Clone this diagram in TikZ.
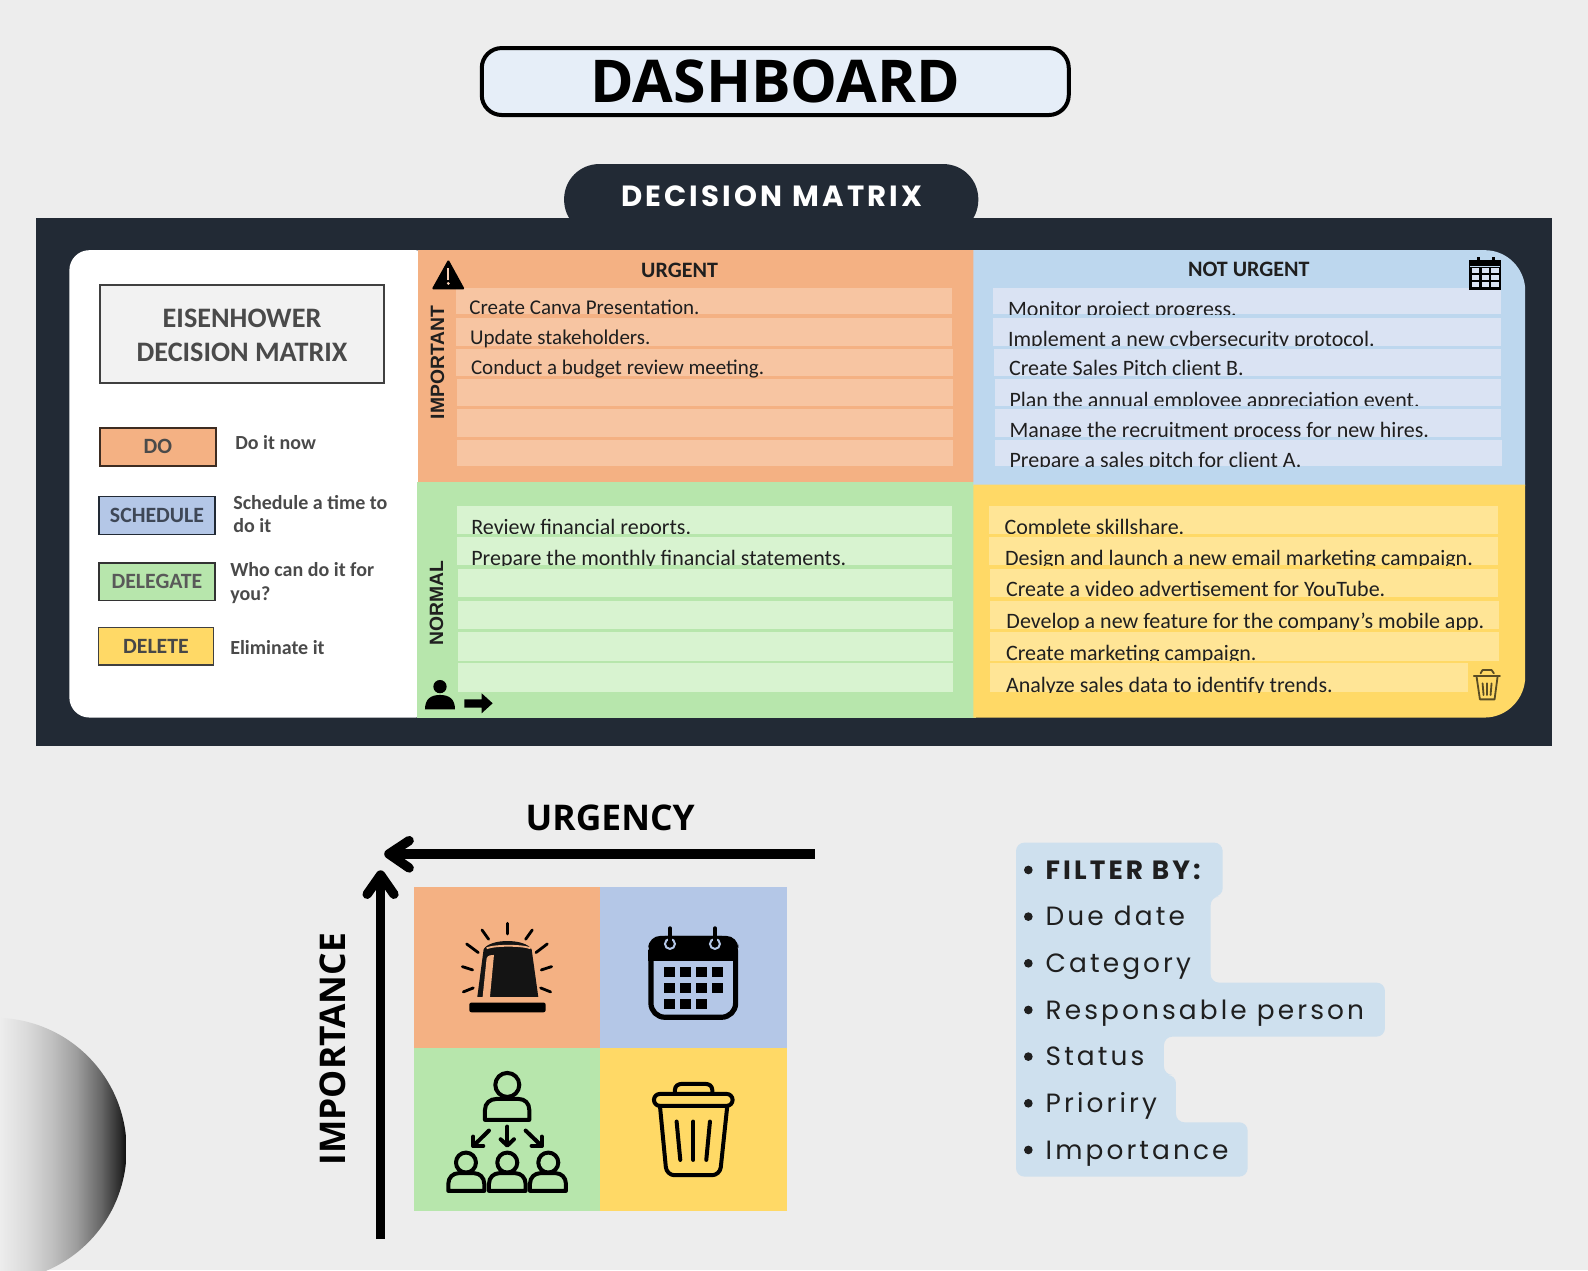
\documentclass[tikz,border=0pt]{standalone}
\usepackage{fontspec}
\setmainfont{Carlito}
\newfontfamily\popf[LetterSpace=11.7]{Poppins}
\newfontfamily\popt[LetterSpace=11]{Poppins}
\newfontfamily\osans{Open Sans}
\newfontfamily\lib{Liberation Sans}
\definecolor{bg}{HTML}{EDEDED}
\definecolor{navy}{HTML}{222A35}
\definecolor{qor}{HTML}{F4B183}
\definecolor{qorr}{HTML}{F7C5A2}
\definecolor{qbl}{HTML}{BDD7EE}
\definecolor{qblr}{HTML}{DAE3F3}
\definecolor{qgr}{HTML}{B7E6AC}
\definecolor{qgrr}{HTML}{D8F3D0}
\definecolor{qye}{HTML}{FFD966}
\definecolor{qyer}{HTML}{FFE596}
\definecolor{sbl}{HTML}{B4C7E7}
\definecolor{filt}{HTML}{CEE0EE}
\definecolor{ink}{HTML}{1F1F1F}
\definecolor{legtxt}{HTML}{4A4A4A}
\definecolor{dashfill}{HTML}{E6EEF8}
\pgfdeclarehorizontalshading{orb}{100bp}{color(0bp)=(bg); color(25bp)=(bg); color(35bp)=(black!14); color(45bp)=(black!24); color(55bp)=(black!38); color(65bp)=(black!60); color(72bp)=(black!82); color(75bp)=(black!95); color(100bp)=(black!95)}
\newcommand{\fs}[1]{\fontsize{#1}{#1}\selectfont}
\newcommand{\cliptxt}[8]{\begin{scope}\clip (#1,#2) rectangle (#3,#4);\node[rowtext,font=\fs{11}] (#5) at (#6,#7) {#8};\end{scope}}
\tikzset{
  rowtext/.style={anchor=base west,inner sep=0pt,text=ink,font=\fs{10.5}},
  legbox/.style={draw,line width=0.9pt,minimum width=58pt,minimum height=19pt,inner sep=0pt,font=\bfseries\fs{10.9}},
  legnote/.style={anchor=base west,inner sep=0pt,text=legtxt,font=\bfseries\fs{10}},
  head/.style={inner sep=0pt,text=ink,font=\bfseries\fs{11}},
  side/.style={inner sep=0pt,rotate=90,text=ink,font=\lib\bfseries\fs{9.65}},
  axis/.style={line width=4.7pt,black,line join=round,line cap=round},
  filtertxt/.style={anchor=base west,inner sep=0pt,text=ink,font=\popf\fs{13.2}},
  icon/.style={line width=2pt,black,line cap=round,line join=round}
}
\begin{document}
\begin{tikzpicture}[x=0.50638pt,y=-0.50638pt]
\useasboundingbox (0,0) rectangle (1568,1254);
\fill[bg] (0,0) rectangle (1568,1254);
% sphere
\begin{scope}
\clip (-5,1135) circle (130);
\shade[shading=orb] (0,1000) rectangle (125,1254);
\end{scope}
% title
\node[draw=black,line width=2pt,fill=dashfill,rounded corners=10pt,minimum width=293.5pt,minimum height=33.5pt,inner sep=0pt] (dashbox) at (765.5,80.5) {};
\node[inner sep=0pt,font=\osans\bfseries\fs{29.5},text=black] (dashtxt) at (765.5,80) {DASHBOARD};
% tab + panel
\fill[navy,rounded corners=17.5pt] (557,162) rectangle (966,232);
\fill[navy] (35.5,215.5) rectangle (1532,737);
\node[inner sep=0pt,text=white,font=\popt\bfseries\fs{14.6}] (tabtxt) at (762,194) {DECISION MATRIX};
% inner sheet
\fill[white,rounded corners=10pt] (68.5,247) rectangle (430,708.5);
\fill[qor] (413,247) rectangle (964,477);
\fill[qgr] (412,475.5) rectangle (964,708.5);
\fill[qbl] (961,247) -- (1466,247) .. controls (1488,247) and (1506,265) .. (1506,287) -- (1506,480) -- (961,480) -- cycle;
\fill[qye] (961,478.5) -- (1506,478.5) -- (1506,668) .. controls (1506,690) and (1488,708.5) .. (1466,708.5) -- (961,708.5) -- cycle;
% rows
\foreach \a/\b/\l/\r in {284/310.3/450/940,314/341.4/450/940,344.5/371/450.5/941,374.5/400.6/451/941,404/431/451/941,434.5/460.5/451/941}{\fill[qorr] (\l,\a) rectangle (\r,\b);}
\foreach \a/\b/\l/\r in {284/310.3/980/1482,314/341.4/980/1482,344.5/371/981/1482,374.5/400.6/982/1482,404/431/982/1482,434.5/460.5/982/1483}{\fill[qblr] (\l,\a) rectangle (\r,\b);}
\foreach \a/\b/\l/\r in {499.7/527/451/940,530.7/558/451/940,561.4/589/452/940,593/621.3/452/941,624.5/652.3/452/941,655/683.4/452/941}{\fill[qgrr] (\l,\a) rectangle (\r,\b);}
\foreach \a/\b/\l/\r in {499.7/527/977/1479,530.7/558/977/1479,561.4/589/978/1479,593/621.3/978/1480,624.5/652.3/978/1480,655/683.4/978/1449}{\fill[qyer] (\l,\a) rectangle (\r,\b);}
% headers
\node[head] (urg) at (671,267) {URGENT};
\node[head] (nurg) at (1233,265.5) {NOT URGENT};
\node[side] (imp) at (432,358) {IMPORTANT};
\node[side] (nor) at (431,595.5) {NORMAL};
% orange
\node[rowtext] (o1) at (463,311) {Create Canva Presentation.};
\node[rowtext] (o2) at (463.7,340) {Update stakeholders.};
\node[rowtext] (o3) at (464.7,370) {Conduct a budget review meeting.};
% blue
\cliptxt{980}{284}{1482}{310.3}{b1}{995}{312.5}{Monitor project progress.}
\cliptxt{980}{314}{1482}{341.4}{b2}{995}{342}{Implement a new cybersecurity protocol.}
\cliptxt{980}{344.5}{1482}{371}{b3}{996}{371}{Create Sales Pitch client B.}
\cliptxt{980}{374.5}{1482}{400.6}{b4}{996.4}{402.5}{Plan the annual employee appreciation event.}
\cliptxt{980}{404}{1482}{431}{b5}{996.4}{431.5}{Manage the recruitment process for new hires.}
\cliptxt{980}{434.5}{1482}{460.5}{b6}{996.4}{461.5}{Prepare a sales pitch for client A.}
% green
\cliptxt{451}{499.7}{940}{527}{g1}{465}{528}{Review financial reports.}
\cliptxt{451}{530.7}{940}{558}{g2}{465}{558}{Prepare the monthly financial statements.}
% yellow
\cliptxt{977}{499.7}{1479}{527}{y1}{991.5}{528}{Complete skillshare.}
\cliptxt{977}{530.7}{1479}{558}{y2}{992}{558}{Design and launch a new email marketing campaign.}
\cliptxt{977}{561.4}{1479}{589}{y3}{993}{589}{Create a video advertisement for YouTube.}
\cliptxt{977}{593}{1480}{621.3}{y4}{993.4}{620.5}{Develop a new feature for the company’s mobile app.}
\cliptxt{977}{624.5}{1480}{652.3}{y5}{993}{652}{Create marketing campaign.}
\cliptxt{977}{655}{1449}{683.4}{y6}{993}{683.5}{Analyze sales data to identify trends.}
% legend
\node[draw=black!75,line width=0.8pt,fill=black!5,minimum width=142pt,minimum height=49pt,inner sep=0pt] (ttl) at (239,330) {};
\node[inner sep=0pt,align=center,text=legtxt,font=\bfseries\fs{14.1}] (ttltxt) at (239,331) {EISENHOWER\\[2.8pt]DECISION MATRIX};
\node[legbox,draw=black!75!qor,fill=qor,text=legtxt] (ldo) at (156,441) {DO};
\node[legbox,draw=navy,fill=sbl,text=black!30!sbl!30!navy] (lsc) at (155,509) {\raisebox{-1pt}[7pt][2pt]{SCHEDULE}};
\node[legbox,draw=black!80,fill=qgr,text=black!65,minimum height=18.6pt] (lde) at (155,574.5) {\raisebox{-1pt}[7pt][2pt]{DELEGATE}};
\node[legbox,draw=black!75,fill=qye,text=black!72,minimum width=57.5pt,minimum height=18.6pt] (lel) at (154,638) {DELETE};
\node[legnote] (n1) at (232,444) {Do it now};
\node[legnote] (n2) at (230,503) {Schedule a time to};
\node[legnote] (n3) at (230,526) {do it};
\node[legnote] (n4) at (227,569) {Who can do it for};
\node[legnote] (n5) at (227,592.5) {you?};
\node[legnote] (n6) at (227,646) {Eliminate it};
% small warning
\fill[black,rounded corners=0.7pt] (442.7,256) -- (459,285.7) -- (426.2,285.7) -- cycle;
\fill[qor!60!white] (441.7,265) rectangle (443.8,276);
\fill[qor!60!white] (442.7,279.8) circle (1.5);
% small calendar
\begin{scope}[shift={(1441.5,246.8)},scale=0.3291]
\fill[black] (28,30) rectangle (122,120);
\foreach \x in {36,65,94}{\foreach \y in {55,75,97}{\fill[qblr] (\x,\y) rectangle ++(22,14);}}
\fill[qbl] (30,48) rectangle (120,52);
\draw[black,line width=1.3pt] (55,22) -- (55,36);
\draw[black,line width=1.3pt] (100,22) -- (100,36);
\end{scope}
% small person + arrow
\begin{scope}[shift={(414.7,661.5)},scale=0.3291]
\fill[black] (60,50) circle (20);
\fill[black] (15,118) .. controls (15,85) and (35,75) .. (60,75) .. controls (85,75) and (105,85) .. (105,118) -- cycle;
\fill[black] (133,88) -- (185,88) -- (185,70) -- (218,100) -- (185,130) -- (185,113) -- (133,113) -- cycle;
\end{scope}
% small trash
\begin{scope}[shift={(1441.5,651.7)},scale=0.3291,line width=0.9pt,draw=black!65!qye,line cap=round,line join=round]
\draw (62,40) -- (68,30) -- (95,30) -- (102,40);
\draw (42,47) -- (120,47);
\draw (50,50) -- (60,118) -- (104,118) -- (113,50);
\draw (68,70) -- (71,105);
\draw (81,70) -- (81,105);
\draw (95,70) -- (92,105);
\end{scope}
% bottom quadrant
\fill[qor] (408.8,875.4) rectangle (592.6,1035.2);
\fill[sbl] (592.4,875.4) rectangle (776.7,1035.2);
\fill[qgr] (408.8,1035) rectangle (592.6,1195.6);
\fill[qye] (592.4,1035) rectangle (776.7,1195.6);
% axes
\node[inner sep=0pt,font=\osans\bfseries\fs{17.7},text=black] (urgency) at (602.5,807.5) {URGENCY};
\node[inner sep=0pt,rotate=90,font=\osans\bfseries\fs{17.7},text=black] (importance) at (329,1036) {IMPORTANCE};
\coordinate (ue) at (804.7,843.2);
\coordinate (ut) at (384,843.2);
\coordinate (ua) at (404,830);
\coordinate (ub) at (404,857);
\coordinate (ie) at (375.8,1223.6);
\coordinate (it) at (375.8,864);
\coordinate (ic) at (362.5,883);
\coordinate (id) at (389,883);
\draw[axis,line cap=butt] (ue) -- (ut);
\draw[axis] (ua) -- (ut) -- (ub);
\draw[axis,line cap=butt] (ie) -- (it);
\draw[axis] (ic) -- (it) -- (id);
% big icons
\begin{scope}[shift={(296.2,770.1)},scale=0.3291]
% siren
\fill[black,rounded corners=1pt] (508,668) rectangle (737,697);
\fill[black!92] (532,651) -- (551,508) .. controls (570,475) and (675,475) .. (695,508) -- (715,651) -- cycle;
\fill[qor] (548,651) -- (560,535) .. controls (563,525) and (575,525) .. (582,525) -- (570,651) -- cycle;
\draw[qor,line width=0.9pt] (560,505) .. controls (585,495) and (665,495) .. (692,505);
\foreach \a/\b/\c/\d in {622/430/622/462,546/450/566/478,697/450/677/478,500/492/535/518,742/492/708/518,487/560/518/570,755/560/724/570,490/636/520/624,752/636/722/624}
  {\draw[black,line width=1.4pt,line cap=round] (\a,\b) -- (\c,\d);}
% calendar
\draw[black,line width=2.6pt,rounded corners=7pt] (1053,476) rectangle (1307,712);
\fill[black,rounded corners=6pt] (1045,468) rectangle (1315,530);
\fill[black] (1045,510) rectangle (1315,543);
\foreach \x in {1110,1245}{
  \draw[sbl,line width=1pt] (\x,492) circle (15);
  \draw[black,line width=2pt,line cap=round] (\x,445) -- (\x,490);}
\foreach \x in {1093,1141,1189,1237}{\foreach \y in {560,608}{\fill[black] (\x,\y) rectangle ++(32,32);}}
\foreach \x in {1093,1141,1189}{\fill[black] (\x,656) rectangle ++(32,32);}
% delegation
\draw[icon] (622,915) circle (36);
\draw[icon] (555,1020) -- (555,990) .. controls (555,970) and (570,957) .. (590,957) -- (655,957) .. controls (675,957) and (688,970) .. (688,990) -- (688,1020) -- cycle;
\foreach \x/\l/\r in {498/445/553,622/567/677,745/690/798}{
  \draw[icon] (\x,1148) circle (30);
  \draw[icon] (\l,1233) -- (\l,1212) .. controls (\l,1192) and (\l+15,1180) .. (\l+30,1180) -- (\r-30,1180) .. controls (\r-15,1180) and (\r,1192) .. (\r,1212) -- (\r,1233) -- cycle;}
\draw[icon] (622,1040) -- (622,1095);
\draw[icon] (602,1078) -- (622,1097) -- (642,1078);
\draw[icon] (567,1052) -- (520,1098);
\draw[icon] (520,1070) -- (520,1098) -- (550,1098);
\draw[icon] (677,1052) -- (725,1098);
\draw[icon] (725,1070) -- (725,1098) -- (695,1098);
% trash
\draw[icon] (1125,940) -- (1125,930) .. controls (1125,918) and (1135,912) .. (1145,912) -- (1217,912) .. controls (1227,912) and (1237,918) .. (1237,930) -- (1237,940);
\draw[icon,rounded corners=3pt] (1062,942) rectangle (1298,978);
\draw[icon,rounded corners=4pt] (1080,978) -- (1100,1186) -- (1260,1186) -- (1282,978);
\draw[icon] (1130,1025) -- (1141,1140);
\draw[icon] (1180,1025) -- (1180,1140);
\draw[icon] (1230,1025) -- (1219,1140);
\end{scope}
% filter
\begin{scope}[shift={(987.4,819.5)},scale=0.3291]
\fill[filt,rounded corners=4.2pt] (48,38) -- (668,38) -- (668,200) -- (632,200) -- (632,458) -- (1155,458) -- (1155,620) -- (492,620) -- (492,735) -- (528,735) -- (528,877) -- (743,877) -- (743,1040) -- (48,1040) -- cycle;
\foreach \y in {120,260,400,540,680,820,960}{\fill[ink] (85,\y) circle (13);}
\node[filtertxt,font=\popf\bfseries\fs{13.2}] (f0) at (136,148) {FILTER BY:};
\node[filtertxt] (f1) at (136,288) {Due date};
\node[filtertxt] (f2) at (136,428) {Category};
\node[filtertxt] (f3) at (136,568) {Responsable person};
\node[filtertxt] (f4) at (136,708) {Status};
\node[filtertxt] (f5) at (136,848) {Prioriry};
\node[filtertxt] (f6) at (136,988) {Importance};
\end{scope}
\end{tikzpicture}
\end{document}
